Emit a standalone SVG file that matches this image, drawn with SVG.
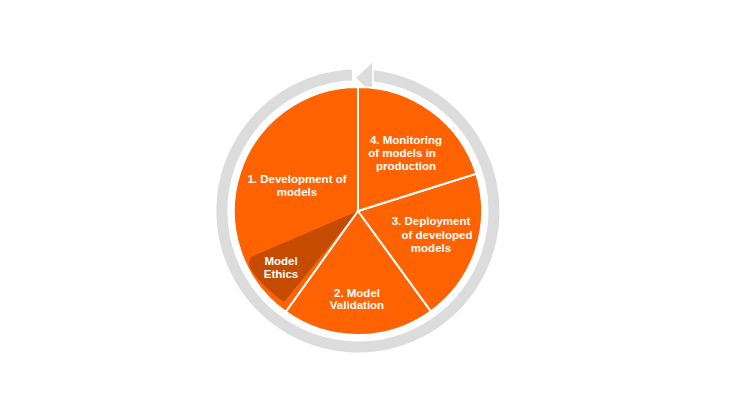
<svg xmlns="http://www.w3.org/2000/svg" width="740" height="416" viewBox="0 0 740 416">
<style>
.s{fill:#ff6200;stroke:#fff;stroke-width:2}
.t{font-family:"Liberation Sans",Arial,sans-serif;font-weight:bold;font-size:11.5px;fill:#fff;text-anchor:middle}
</style>
<rect width="740" height="416" fill="#fff"/>
<g id="ring">
<path d="M372,75.7 A136,136 0 1 1 352,75.1" fill="none" stroke="#dcdcdc" stroke-width="11"/>
<polygon points="355,78 373,61 373,95" fill="#dcdcdc" stroke="#fff" stroke-width="1.5"/>
</g>
<g id="s1"><path class="s" d="M358,211 L358,87 A124,124 0 0 0 285.8,311.9 Z"/>
<path d="M358,211 L251,257 Q247,263 252,271 Q266,290 284,302 Z" fill="#c44b00"/>
<text class="t" x="297" y="183">1. Development of</text><text class="t" x="297" y="196">models</text></g>
<g id="ethics"><text class="t" x="281" y="265">Model</text><text class="t" x="281" y="278">Ethics</text></g>
<g id="s2"><path class="s" d="M358,211 L285.8,311.9 A124,124 0 0 0 430.9,311.3 Z"/>
<text class="t" x="357" y="297">2. Model</text><text class="t" x="357" y="309">Validation</text></g>
<g id="s3"><path class="s" d="M358,211 L430.9,311.3 A124,124 0 0 0 476.3,173.7 Z"/>
<text class="t" x="431" y="225">3. Deployment</text><text class="t" x="437" y="239">of developed</text><text class="t" x="431" y="252">models</text></g>
<g id="s4"><path class="s" d="M358,211 L476.3,173.7 A124,124 0 0 0 358,87 Z"/>
<text class="t" x="406" y="144">4. Monitoring</text><text class="t" x="402" y="157">of models in</text><text class="t" x="406" y="170">production</text></g>
</svg>
